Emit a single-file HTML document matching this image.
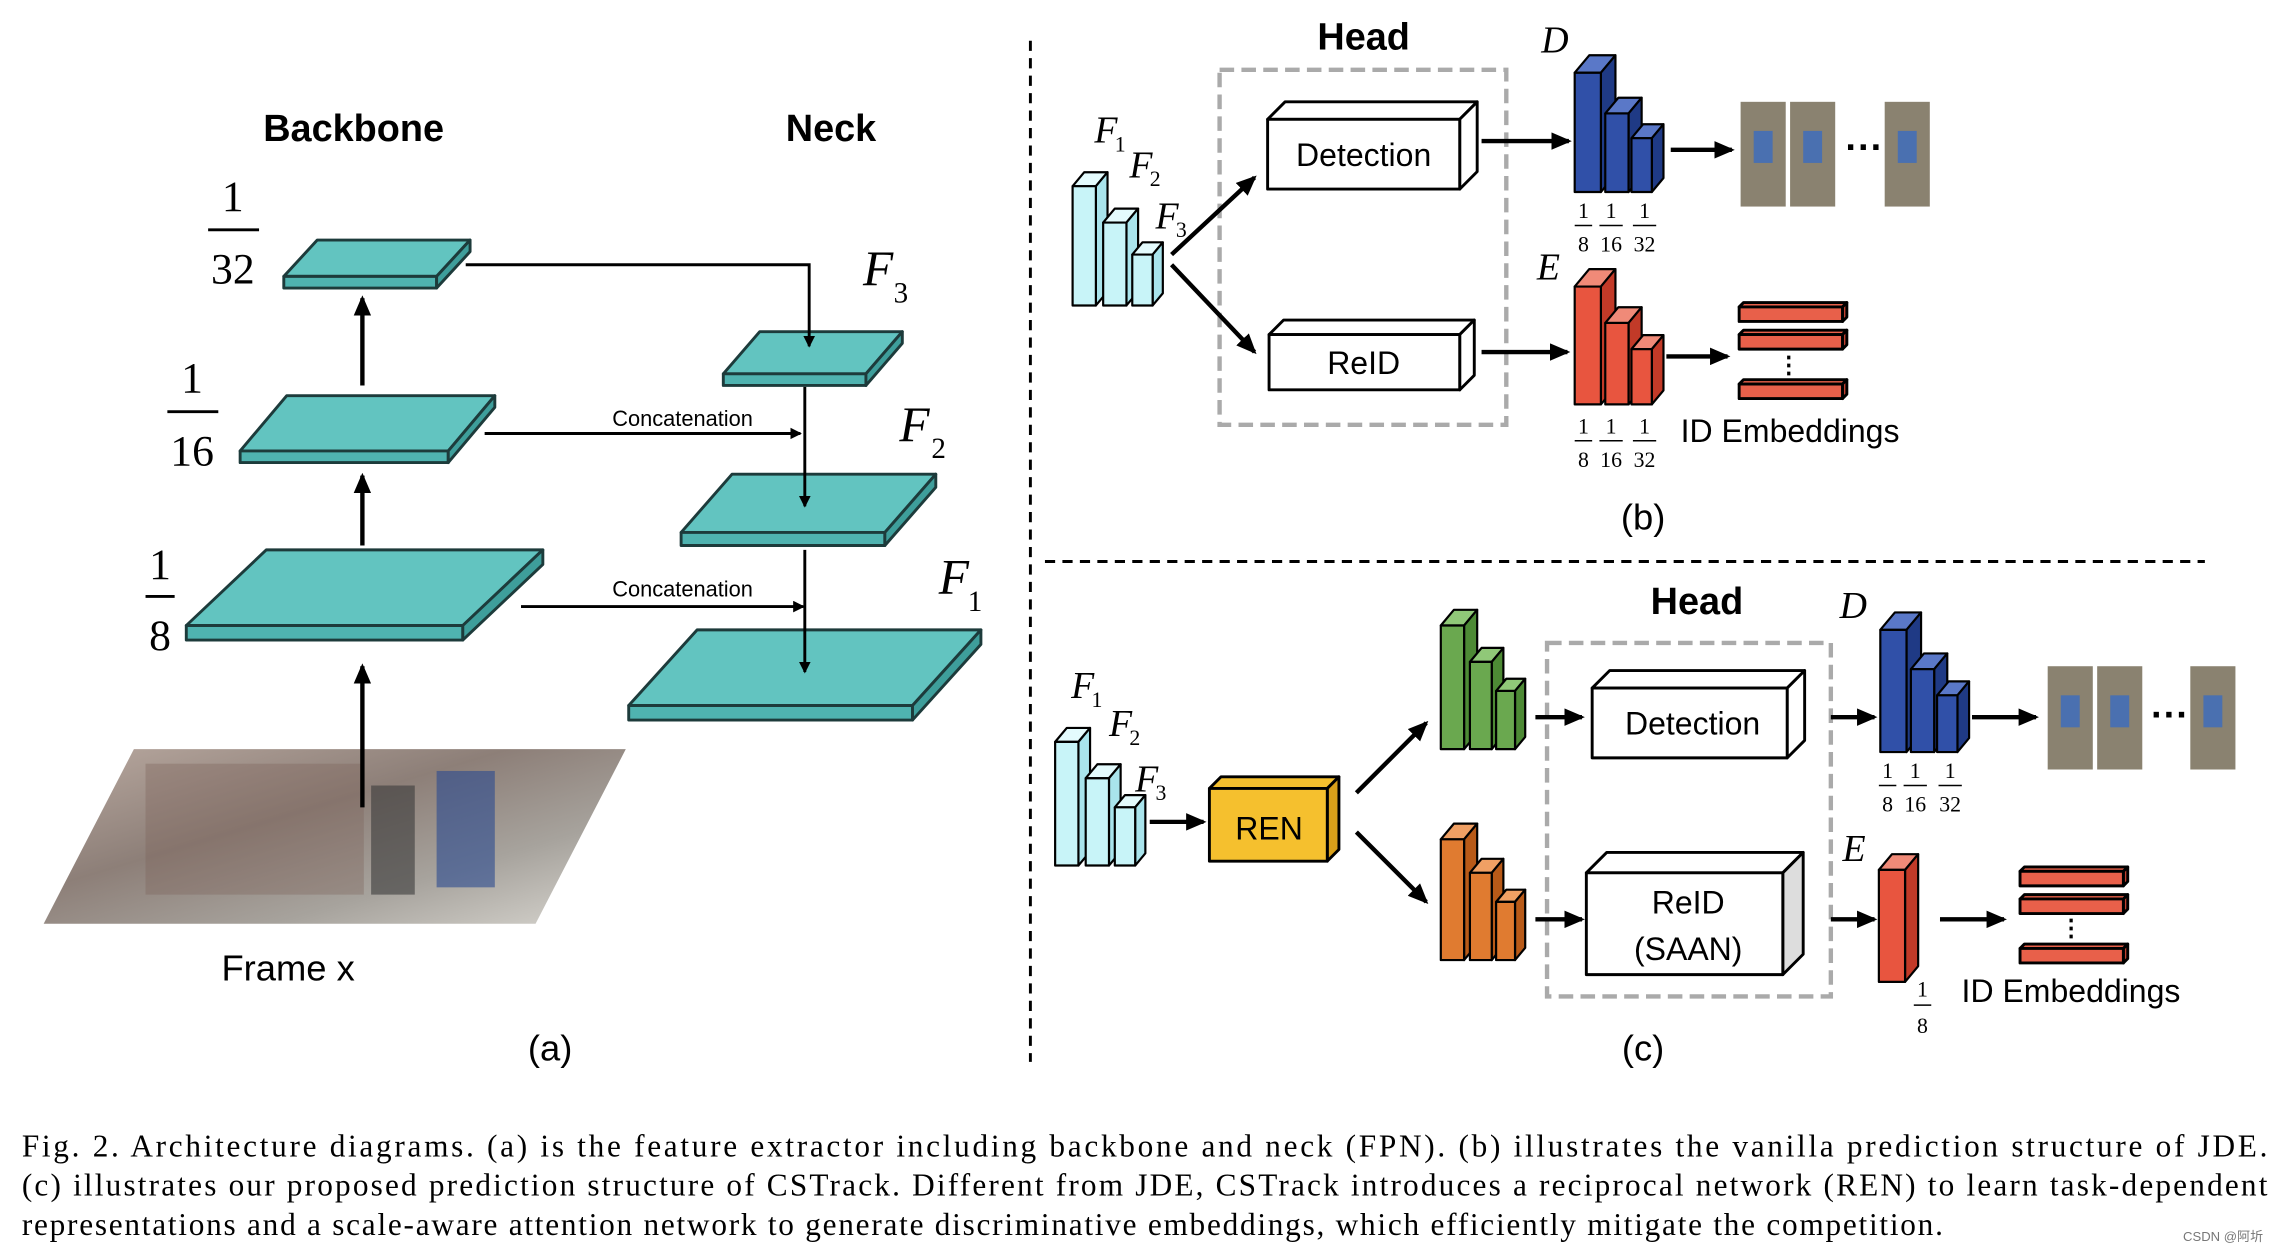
<!DOCTYPE html>
<html><head><meta charset="utf-8"><style>
html,body{margin:0;padding:0;background:#fff;}
svg{display:block;}
.sans{font-family:"Liberation Sans","DejaVu Sans",sans-serif;}
.serif{font-family:"Liberation Serif",serif;}
</style></head><body>
<svg id="s" width="2282" height="1251" viewBox="0 0 1568 860" preserveAspectRatio="none" xmlns="http://www.w3.org/2000/svg">
<defs>
<marker id="ah" markerWidth="8" markerHeight="8" refX="7" refY="4" orient="auto" markerUnits="userSpaceOnUse"><path d="M0,0 L8,4 L0,8 z" fill="#000"/></marker>
<marker id="ahb" markerWidth="14" markerHeight="12" refX="12" refY="6" orient="auto" markerUnits="userSpaceOnUse"><path d="M0,0 L14,6 L0,12 z" fill="#000"/></marker>
<linearGradient id="ph" x1="0" y1="0" x2="1" y2="1"><stop offset="0" stop-color="#b9a9a0"/><stop offset="0.4" stop-color="#8d7f78"/><stop offset="0.7" stop-color="#a7a39d"/><stop offset="1" stop-color="#d8d6d0"/></linearGradient>
</defs>
<g id="shapes"></g>
<g class="sans" font-weight="bold" font-size="26" text-anchor="middle">
<text x="243" y="97">Backbone</text><text x="571" y="97">Neck</text>
<text x="937" y="34">Head</text><text x="1166" y="422">Head</text>
</g>
<g class="serif" font-size="30" text-anchor="middle">
<text x="160" y="145">1</text><text x="160" y="195">32</text>
<text x="132" y="270">1</text><text x="132" y="320">16</text>
<text x="110" y="398">1</text><text x="110" y="447">8</text>
</g>
<g stroke="#000" stroke-width="2"><line x1="143" y1="158" x2="178" y2="158"/><line x1="115" y1="283" x2="150" y2="283"/><line x1="100" y1="410" x2="120" y2="410"/></g>
<g class="serif" font-style="italic" font-size="34">
<text x="593" y="196">F</text><text x="618" y="303">F</text><text x="645" y="408">F</text>
</g>
<g class="serif" font-size="20"><text x="614" y="208">3</text><text x="640" y="315">2</text><text x="665" y="420">1</text></g>
<g class="sans" font-size="15" text-anchor="middle"><text x="469" y="293">Concatenation</text><text x="469" y="410">Concatenation</text></g>
<g class="sans" font-size="25" text-anchor="middle"><text x="198" y="674">Frame x</text><text x="378" y="729">(a)</text><text x="1129" y="364">(b)</text><text x="1129" y="729">(c)</text></g>
<g class="serif" font-style="italic" font-size="26">
<text x="752" y="98">F</text><text x="776" y="122">F</text><text x="794" y="157">F</text>
<text x="736" y="480">F</text><text x="762" y="506">F</text><text x="780" y="544">F</text>
<text x="1059" y="36">D</text><text x="1056" y="192">E</text>
<text x="1264" y="425">D</text><text x="1266" y="592">E</text>
</g>
<g class="serif" font-size="15">
<text x="766" y="104">1</text><text x="790" y="128">2</text><text x="808" y="163">3</text>
<text x="750" y="486">1</text><text x="776" y="512">2</text><text x="794" y="550">3</text>
</g>
<g class="sans" font-size="22" text-anchor="middle">
<text x="937" y="114">Detection</text><text x="937" y="257">ReID</text>
<text x="1163" y="505">Detection</text><text x="1160" y="628">ReID</text><text x="1160" y="660">(SAAN)</text>
<text x="872" y="577">REN</text>
<text x="1230" y="304">ID Embeddings</text><text x="1423" y="689">ID Embeddings</text>
</g>
<g class="serif" font-size="15" text-anchor="middle">
<text x="1088" y="150">1</text><text x="1088" y="173">8</text><text x="1107" y="150">1</text><text x="1107" y="173">16</text><text x="1130" y="150">1</text><text x="1130" y="173">32</text>
<text x="1088" y="298">1</text><text x="1088" y="321">8</text><text x="1107" y="298">1</text><text x="1107" y="321">16</text><text x="1130" y="298">1</text><text x="1130" y="321">32</text>
<text x="1297" y="535">1</text><text x="1297" y="558">8</text><text x="1316" y="535">1</text><text x="1316" y="558">16</text><text x="1340" y="535">1</text><text x="1340" y="558">32</text>
<text x="1321" y="685">1</text><text x="1321" y="710">8</text>
</g>
<g stroke="#000" stroke-width="1"><line x1="1082" y1="155" x2="1094" y2="155"/><line x1="1099" y1="155" x2="1115" y2="155"/><line x1="1122" y1="155" x2="1138" y2="155"/>
<line x1="1082" y1="303" x2="1094" y2="303"/><line x1="1099" y1="303" x2="1115" y2="303"/><line x1="1122" y1="303" x2="1138" y2="303"/>
<line x1="1291" y1="540" x2="1303" y2="540"/><line x1="1308" y1="540" x2="1324" y2="540"/><line x1="1332" y1="540" x2="1348" y2="540"/>
<line x1="1315" y1="691" x2="1327" y2="691"/></g>
<g class="sans" font-size="26" font-weight="bold"><text x="1268" y="110">···</text><text x="1478" y="500">···</text></g>
<g class="serif" font-size="21.5">
<text x="15" y="795" textLength="1543" lengthAdjust="spacing">Fig. 2.    Architecture diagrams. (a) is the feature extractor including backbone and neck (FPN). (b) illustrates the vanilla prediction structure of JDE.</text>
<text x="15" y="822" textLength="1543" lengthAdjust="spacing">(c) illustrates our proposed prediction structure of CSTrack. Different from JDE, CSTrack introduces a reciprocal network (REN) to learn task-dependent</text>
<text x="15" y="849" textLength="1320" lengthAdjust="spacing">representations and a scale-aware attention network to generate discriminative embeddings, which efficiently mitigate the competition.</text>
</g>
<text x="1500" y="853" class="sans" font-size="9" fill="#777">CSDN @阿圻</text>
</svg>
<script>
var g=document.getElementById('shapes'),NS='http://www.w3.org/2000/svg';
function el(t,a){var e=document.createElementNS(NS,t);for(var k in a)e.setAttribute(k,a[k]);g.appendChild(e);return e;}
function poly(p,f,s,w){return el('polygon',{points:p.map(function(q){return q.join(',')}).join(' '),fill:f,stroke:s||'#000','stroke-width':w||1.5,'stroke-linejoin':'round'});}
function slab(x,y,w,dx,dy,t){var c='#62c4c0';
poly([[x,y],[x+dx,y-dy],[x+w+dx,y-dy],[x+w,y]],c,'#1d3b3b',2);
poly([[x,y],[x+w,y],[x+w,y+t],[x,y+t]],'#4fb3b0','#1d3b3b',2);
poly([[x+w,y],[x+w+dx,y-dy],[x+w+dx,y-dy+t],[x+w,y+t]],'#3e9e9b','#1d3b3b',2);}
function bar(x,top,bot,w,d,c1,c2,c3){poly([[x,top],[x+d,top-d*1.2],[x+w+d,top-d*1.2],[x+w,top]],c2);
poly([[x+w,top],[x+w+d,top-d*1.2],[x+w+d,bot-d*1.2],[x+w,bot]],c3);
poly([[x,top],[x+w,top],[x+w,bot],[x,bot]],c1);}
function box(x1,y1,x2,y2,d,c,s){c=c||'#fff';poly([[x1,y1],[x1+d,y1-d],[x2+d,y1-d],[x2,y1]],c,'#000',2);
poly([[x2,y1],[x2+d,y1-d],[x2+d,y2-d],[x2,y2]],s||'#fff','#000',2);poly([[x1,y1],[x2,y1],[x2,y2],[x1,y2]],c,'#000',2);}
function arr(x1,y1,x2,y2,big){el('line',{x1:x1,y1:y1,x2:x2,y2:y2,stroke:'#000','stroke-width':big?3:2,'marker-end':big?'url(#ahb)':'url(#ah)'});}
function dl(x1,y1,x2,y2,c,w,da){el('line',{x1:x1,y1:y1,x2:x2,y2:y2,stroke:c,'stroke-width':w,'stroke-dasharray':da});}
dl(708,28,708,730,'#000',2,'7,5');dl(718,386,1515,386,'#000',2,'7,5');
poly([[30,635],[92,515],[430,515],[368,635]],'url(#ph)','none',0);
el('rect',{x:100,y:525,width:150,height:90,fill:'#7a6258',opacity:.35});el('rect',{x:300,y:530,width:40,height:80,fill:'#2a4a90',opacity:.6});el('rect',{x:255,y:540,width:30,height:75,fill:'#3a3a3a',opacity:.6});
slab(195,190,105,23,25,8);slab(165,310,143,32,38,8);slab(128,430,190,55,52,10);
slab(497,257,98,25,29,8);slab(468,366,140,35,40,9);slab(432,485,195,47,52,10);
arr(249,555,249,458,1);arr(249,375,249,327,1);arr(249,265,249,205,1);
el('polyline',{points:'320,182 556,182 556,238',fill:'none',stroke:'#000','stroke-width':2,'marker-end':'url(#ah)'});
arr(333,298,550,298);arr(358,417,552,417);arr(553,266,553,348);arr(553,378,553,462);
el('rect',{x:838,y:48,width:197,height:244,fill:'none',stroke:'#aaa','stroke-width':3,'stroke-dasharray':'10,5'});
box(871,82,1003,130,12);box(872,230,1003,268,10);
var cy=['#c8f4f8','#e4fbfd','#a9e4ec'];
bar(737,128,210,16,8,cy[0],cy[1],cy[2]);bar(758,153,210,16,8,cy[0],cy[1],cy[2]);bar(778,175,210,14,7,cy[0],cy[1],cy[2]);
arr(805,175,862,122,1);arr(805,182,862,242,1);arr(1018,97,1078,97,1);arr(1018,242,1077,242,1);
var bl=['#3050a8','#5a78c8','#1f3a85'],rd=['#e8553f','#f08a78','#c23a28'];
bar(1082,50,132,18,10,bl[0],bl[1],bl[2]);bar(1103,78,132,16,9,bl[0],bl[1],bl[2]);bar(1121,95,132,14,8,bl[0],bl[1],bl[2]);
bar(1082,197,278,18,10,rd[0],rd[1],rd[2]);bar(1103,222,278,16,9,rd[0],rd[1],rd[2]);bar(1121,240,278,14,8,rd[0],rd[1],rd[2]);
arr(1148,103,1190,103,1);arr(1145,245,1187,245,1);
[[1196,70],[1230,70],[1295,70]].forEach(function(p){el('rect',{x:p[0],y:p[1],width:31,height:72,fill:'#8a8270'});el('rect',{x:p[0]+9,y:p[1]+20,width:13,height:22,fill:'#4a70b0'});});
[208,227,261].forEach(function(y){box(1195,y+3,1266,y+13,3,'#e8604a','#c04030');});
el('text',{x:1229,y:256,'font-size':'16','font-weight':'bold','text-anchor':'middle'}).textContent='⋮';
el('rect',{x:1063,y:442,width:195,height:243,fill:'none',stroke:'#aaa','stroke-width':3,'stroke-dasharray':'10,5'});
box(1094,473,1228,521,12);box(1090,600,1225,670,14,'#fff','#ddd');
bar(725,510,595,16,8,cy[0],cy[1],cy[2]);bar(746,535,595,16,8,cy[0],cy[1],cy[2]);bar(766,555,595,14,7,cy[0],cy[1],cy[2]);
arr(790,565,827,565,1);box(831,542,912,592,8,'#f5c02e','#d9a01a');
arr(932,545,980,497,1);arr(932,572,980,620,1);
var gr=['#6aa84f','#90c878','#4d8a35'],og=['#e07b30','#f0a064','#b85a18'];
bar(990,430,515,16,9,gr[0],gr[1],gr[2]);bar(1010,455,515,15,8,gr[0],gr[1],gr[2]);bar(1028,475,515,13,7,gr[0],gr[1],gr[2]);
bar(990,577,660,16,9,og[0],og[1],og[2]);bar(1010,600,660,15,8,og[0],og[1],og[2]);bar(1028,620,660,13,7,og[0],og[1],og[2]);
arr(1055,493,1087,493,1);arr(1055,632,1087,632,1);arr(1258,493,1288,493,1);arr(1258,632,1288,632,1);
bar(1292,433,517,18,10,bl[0],bl[1],bl[2]);bar(1313,460,517,16,9,bl[0],bl[1],bl[2]);bar(1331,478,517,14,8,bl[0],bl[1],bl[2]);
bar(1291,598,675,18,9,rd[0],rd[1],rd[2]);
arr(1355,493,1399,493,1);arr(1333,632,1377,632,1);
[[1407,458],[1441,458],[1505,458]].forEach(function(p){el('rect',{x:p[0],y:p[1],width:31,height:71,fill:'#8a8270'});el('rect',{x:p[0]+9,y:p[1]+20,width:13,height:22,fill:'#4a70b0'});});
[596,615,649].forEach(function(y){box(1388,y+3,1459,y+13,3,'#e8604a','#c04030');});
el('text',{x:1423,y:643,'font-size':'16','font-weight':'bold','text-anchor':'middle'}).textContent='⋮';
</script>
</body></html>
